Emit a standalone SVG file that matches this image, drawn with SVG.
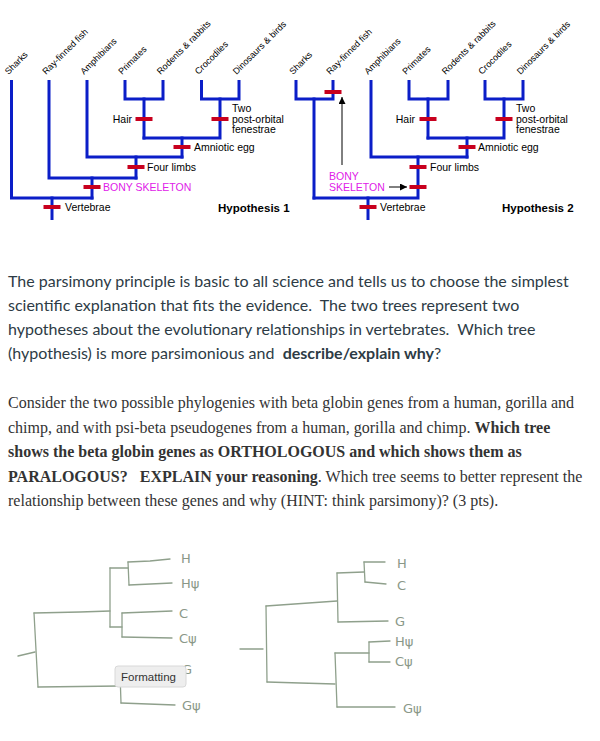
<svg xmlns="http://www.w3.org/2000/svg" width="600" height="741" viewBox="0 0 600 741">
<style>
.br{fill:none;stroke:#0b1ec8;stroke-width:3;stroke-linecap:square;stroke-linejoin:miter}
.mk{fill:#c8001e}
.lf{font-family:"Liberation Sans",Arial,sans-serif;font-size:9px;fill:#000}
.lb{font-family:"Liberation Sans",Arial,sans-serif;font-size:10.5px;fill:#000}
.mg{fill:#e020e8}
.hy{font-family:"Liberation Sans",Arial,sans-serif;font-size:11.5px;font-weight:bold;fill:#000}
.p1{font-family:Lato,"Open Sans",sans-serif;font-size:16px;fill:#2d3b45;white-space:pre}
.p2{font-family:"Liberation Serif","Times New Roman",serif;font-size:16px;fill:#333;white-space:pre}
.b{font-weight:bold}
.hd{fill:none;stroke:#8fa08c;stroke-width:1.3;stroke-linecap:round;stroke-linejoin:round}
.hl{font-family:"DejaVu Sans","Liberation Sans",sans-serif;font-size:13px;fill:#8a9888}
.ar{fill:none;stroke:#000;stroke-width:1}
</style>
<defs>
<marker id="ah" viewBox="0 0 10 10" refX="10" refY="5" markerWidth="7" markerHeight="7" orient="auto" markerUnits="userSpaceOnUse">
<path d="M0,0 L10,5 L0,10 z" fill="#000"/>
</marker>
</defs>

<g id="hypothesis1">
<g id="h1-connectors">
<path class="br" d="M125,81.5 V99 H163 V81.5"/>
<path class="br" d="M144,99 V138"/>
<path class="br" d="M201.5,81.5 V99 H239 V81.5"/>
<path class="br" d="M220,99 V138 H144"/>
<path class="br" d="M182,138 V157"/>
<path class="br" d="M87,81.5 V157 H182"/>
<path class="br" d="M136,157 V178"/>
<path class="br" d="M49,81.5 V178 H136"/>
<path class="br" d="M92,178 V198"/>
<path class="br" d="M11.5,81.5 V198 H92"/>
<path class="br" d="M52,198 V218.5"/>
</g>
<g id="h1-leaves">
<text class="lf" transform="translate(8.5,75) rotate(-45)">Sharks</text>
<text class="lf" transform="translate(46,75) rotate(-45)">Ray-finned fish</text>
<text class="lf" transform="translate(84,75) rotate(-45)">Amphibians</text>
<text class="lf" transform="translate(122,75) rotate(-45)">Primates</text>
<text class="lf" transform="translate(160.5,75) rotate(-45)">Rodents &amp; rabbits</text>
<text class="lf" transform="translate(198.5,75) rotate(-45)">Crocodiles</text>
<text class="lf" transform="translate(236.5,75) rotate(-45)">Dinosaurs &amp; birds</text>
</g>
<g id="h1-hair"><rect class="mk" x="135.5" y="117" width="17" height="4"/><text class="lb" x="132" y="122.8" text-anchor="end">Hair</text></g>
<g id="h1-fenestrae"><rect class="mk" x="211.5" y="117" width="17" height="4"/><text class="lb" x="232" y="111.6">Two</text><text class="lb" x="232" y="122.6">post-orbital</text><text class="lb" x="232" y="133.4">fenestrae</text></g>
<g id="h1-amniotic"><rect class="mk" x="173.5" y="145" width="17" height="4"/><text class="lb" x="194" y="150.8">Amniotic egg</text></g>
<g id="h1-limbs"><rect class="mk" x="127.5" y="165" width="17" height="4"/><text class="lb" x="147" y="170.7">Four limbs</text></g>
<g id="h1-bony"><rect class="mk" x="83.5" y="185" width="17" height="4"/><text class="lb mg" x="103" y="190.7">BONY SKELETON</text></g>
<g id="h1-vertebrae"><rect class="mk" x="43.5" y="205" width="17" height="4"/><text class="lb" x="65" y="210.7">Vertebrae</text></g>
<text class="hy" x="218" y="211.5">Hypothesis 1</text>
</g>

<g id="hypothesis2">
<g id="h2-connectors">
<path class="br" d="M296,81.5 V99 H333 V81.5"/>
<path class="br" d="M314,99 V198"/>
<path class="br" d="M409,81.5 V99 H448 V81.5"/>
<path class="br" d="M428,99 V138"/>
<path class="br" d="M485,81.5 V99 H523 V81.5"/>
<path class="br" d="M504,99 V138 H428"/>
<path class="br" d="M467,138 V157"/>
<path class="br" d="M371,81.5 V157 H467"/>
<path class="br" d="M418,157 V198 H314"/>
<path class="br" d="M368,198 V218.5"/>
<path class="ar" d="M342,165 V97" marker-end="url(#ah)"/>
<path class="ar" d="M389,187 H407" marker-end="url(#ah)"/>
</g>
<g id="h2-leaves">
<text class="lf" transform="translate(293,75) rotate(-45)">Sharks</text>
<text class="lf" transform="translate(330,75) rotate(-45)">Ray-finned fish</text>
<text class="lf" transform="translate(368,75) rotate(-45)">Amphibians</text>
<text class="lf" transform="translate(406,75) rotate(-45)">Primates</text>
<text class="lf" transform="translate(445.5,75) rotate(-45)">Rodents &amp; rabbits</text>
<text class="lf" transform="translate(482,75) rotate(-45)">Crocodiles</text>
<text class="lf" transform="translate(520.5,75) rotate(-45)">Dinosaurs &amp; birds</text>
</g>
<g id="h2-bony-fish"><rect class="mk" x="324.5" y="90" width="17" height="4"/></g>
<g id="h2-hair"><rect class="mk" x="419.5" y="117" width="17" height="4"/><text class="lb" x="415" y="122.8" text-anchor="end">Hair</text></g>
<g id="h2-fenestrae"><rect class="mk" x="495.5" y="117" width="17" height="4"/><text class="lb" x="516" y="111.6">Two</text><text class="lb" x="516" y="122.6">post-orbital</text><text class="lb" x="516" y="133.4">fenestrae</text></g>
<g id="h2-amniotic"><rect class="mk" x="458.5" y="145" width="17" height="4"/><text class="lb" x="478" y="150.8">Amniotic egg</text></g>
<g id="h2-limbs"><rect class="mk" x="409.5" y="165" width="17" height="4"/><text class="lb" x="430" y="170.7">Four limbs</text></g>
<g id="h2-bony"><rect class="mk" x="409.5" y="185" width="17" height="4"/><text class="lb mg" x="329" y="179.6">BONY</text><text class="lb mg" x="329" y="190.7">SKELETON</text></g>
<g id="h2-vertebrae"><rect class="mk" x="359.5" y="205" width="17" height="4"/><text class="lb" x="380" y="210.7">Vertebrae</text></g>
<text class="hy" x="502" y="211.5">Hypothesis 2</text>
</g>

<g id="paragraph1">
<text class="p1" x="8" y="287">The parsimony principle is basic to all science and tells us to choose the simplest</text>
<text class="p1" x="8" y="311">scientific explanation that fits the evidence.  The two trees represent two</text>
<text class="p1" x="8" y="335">hypotheses about the evolutionary relationships in vertebrates.  Which tree</text>
<text class="p1" x="8" y="359">(hypothesis) is more parsimonious and  <tspan class="b">describe/explain why</tspan>?</text>
</g>

<g id="paragraph2">
<text class="p2" x="8" y="408">Consider the two possible phylogenies with beta globin genes from a human, gorilla and</text>
<text class="p2" x="8" y="432.5">chimp, and with psi-beta pseudogenes from a human, gorilla and chimp. <tspan class="b">Which tree</tspan></text>
<text class="p2 b" x="8" y="457">shows the beta globin genes as ORTHOLOGOUS and which shows them as</text>
<text class="p2" x="8" y="481.5"><tspan class="b">PARALOGOUS?   EXPLAIN your reasoning</tspan>. Which tree seems to better represent the</text>
<text class="p2" x="8" y="506">relationship between these genes and why (HINT: think parsimony)? (3 pts).</text>
</g>

<g id="tree-left">
<path class="hd" d="M18,656 L35,652"/>
<path class="hd" d="M34,613 L38,687"/>
<path class="hd" d="M34,613 L80,612 L110,611"/>
<path class="hd" d="M110,568 L110,627"/>
<path class="hd" d="M110,568 L128,568"/>
<path class="hd" d="M128,562 L129,585"/>
<path class="hd" d="M128,562 L150,561 L170,559"/>
<path class="hd" d="M129,585 L172,583"/>
<path class="hd" d="M110,627 L122,627"/>
<path class="hd" d="M122,613 L122,637"/>
<path class="hd" d="M122,613 L172,611"/>
<path class="hd" d="M122,637 L172,638"/>
<path class="hd" d="M38,687 L120,686"/>
<path class="hd" d="M120,673 L121,703"/>
<path class="hd" d="M120,673 L175,673"/>
<path class="hd" d="M121,703 L175,705"/>
<text class="hl" x="181" y="563">H</text>
<text class="hl" x="181" y="588">Hψ</text>
<text class="hl" x="179" y="618">C</text>
<text class="hl" x="179" y="643">Cψ</text>
<text class="hl" x="182" y="674">G</text>
<text class="hl" x="182" y="710">Gψ</text>
</g>

<g id="tree-right">
<path class="hd" d="M240,649 L263,649"/>
<path class="hd" d="M266,606 L267,682"/>
<path class="hd" d="M266,606 L337,601"/>
<path class="hd" d="M337,573 L338,622"/>
<path class="hd" d="M337,573 L364,572"/>
<path class="hd" d="M364,562 L365,582"/>
<path class="hd" d="M364,562 L385,562"/>
<path class="hd" d="M365,582 L386,584"/>
<path class="hd" d="M338,622 L388,621"/>
<path class="hd" d="M267,682 L300,683 L335,684"/>
<path class="hd" d="M335,653 L337,707"/>
<path class="hd" d="M335,653 L369,653"/>
<path class="hd" d="M369,642 L369,662"/>
<path class="hd" d="M369,642 L390,641"/>
<path class="hd" d="M369,662 L390,662"/>
<path class="hd" d="M337,707 L395,707"/>
<text class="hl" x="397" y="568">H</text>
<text class="hl" x="397" y="590">C</text>
<text class="hl" x="395" y="626">G</text>
<text class="hl" x="395" y="646">Hψ</text>
<text class="hl" x="395" y="666">Cψ</text>
<text class="hl" x="403" y="713">Gψ</text>
</g>

<g id="tooltip">
<rect x="115" y="666" width="71" height="21" rx="3" fill="#eeeeee" stroke="#d8d8d8" stroke-width="1"/>
<text x="121" y="680.5" font-family="'Liberation Sans',Arial,sans-serif" font-size="11.5" fill="#333">Formatting</text>
</g>
</svg>
